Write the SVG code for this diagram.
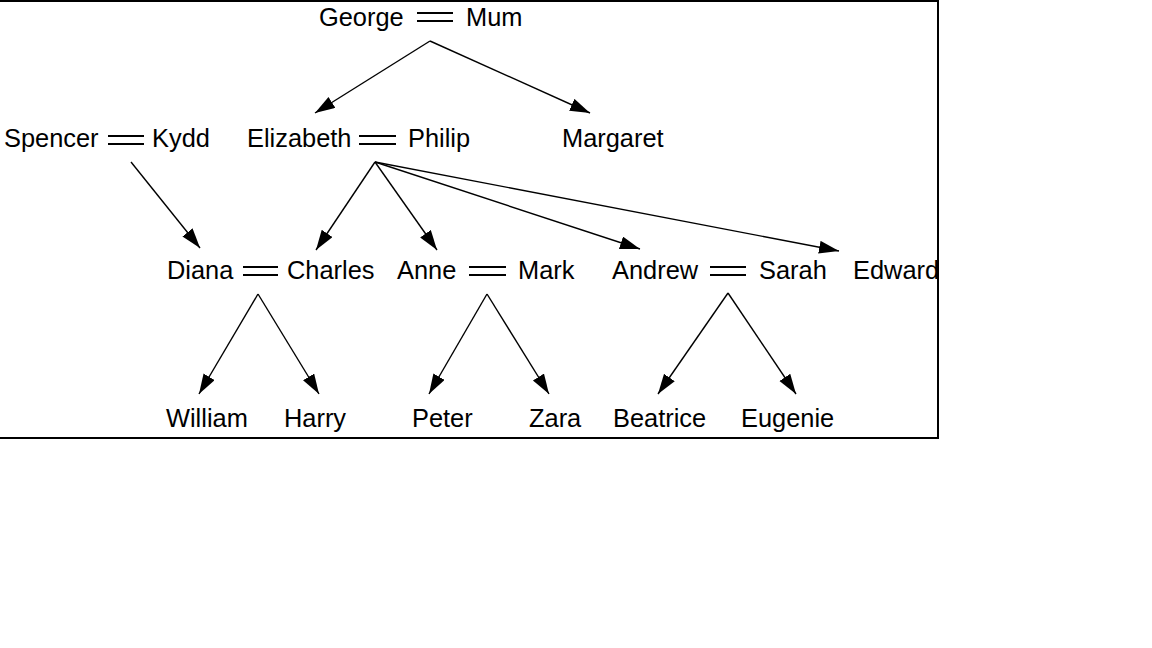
<svg xmlns="http://www.w3.org/2000/svg" width="1152" height="648" viewBox="0 0 1152 648">
<defs>
<style>
text{font-family:"Liberation Sans",Arial,sans-serif;font-size:25.4px;fill:#000}
.m{stroke:#000;stroke-width:2;fill:none}
.e{stroke:#000;stroke-width:1.4;fill:none;marker-end:url(#ah)}
</style>
<marker id="ah" markerUnits="userSpaceOnUse" markerWidth="22" markerHeight="14" refX="20" refY="6.5" orient="auto" viewBox="0 0 22 14">
<path d="M0,0 L20,6.5 L0,13 z" fill="#000"/>
</marker>
</defs>
<rect width="1152" height="648" fill="#fff"/>
<path d="M0,1 H938 V438 H0" fill="none" stroke="#000" stroke-width="2"/>
<g id="connectors">
<path class="e" d="M430,41 L315,113"/>
<path class="e" d="M430,41 L590,113"/>
<path class="e" d="M131,162 L200,248"/>
<path class="e" d="M375,162 L316,250"/>
<path class="e" d="M375,162 L437,250"/>
<path class="e" d="M375,162 L640,249"/>
<path class="e" d="M375,162 L839,251"/>
<path class="e" d="M258,294 L199,394"/>
<path class="e" d="M258,294 L319,394"/>
<path class="e" d="M487,294 L429,394"/>
<path class="e" d="M487,294 L549,394"/>
<path class="e" d="M728,293 L658,394"/>
<path class="e" d="M728,293 L796,394"/>
</g>
<g id="marriages">
<g id="m-george-mum"><path class="m" d="M417,13 H453 M417,21 H453"/></g>
<g id="m-spencer-kydd"><path class="m" d="M108,136 H144 M108,144 H144"/></g>
<g id="m-elizabeth-philip"><path class="m" d="M359,136 H396 M359,144 H396"/></g>
<g id="m-diana-charles"><path class="m" d="M243,267 H278 M243,275 H278"/></g>
<g id="m-anne-mark"><path class="m" d="M469,267 H506 M469,275 H506"/></g>
<g id="m-andrew-sarah"><path class="m" d="M710,267 H746 M710,275 H746"/></g>
</g>
<g id="george"><text x="319" y="26">George</text></g>
<g id="mum"><text x="466" y="26">Mum</text></g>
<g id="spencer"><text x="4" y="147">Spencer</text></g>
<g id="kydd"><text x="152" y="147">Kydd</text></g>
<g id="elizabeth"><text x="247" y="147">Elizabeth</text></g>
<g id="philip"><text x="408" y="147">Philip</text></g>
<g id="margaret"><text x="562" y="147">Margaret</text></g>
<g id="diana"><text x="167" y="279">Diana</text></g>
<g id="charles"><text x="287" y="279">Charles</text></g>
<g id="anne"><text x="397" y="279">Anne</text></g>
<g id="mark"><text x="518" y="279">Mark</text></g>
<g id="andrew"><text x="612" y="279">Andrew</text></g>
<g id="sarah"><text x="759" y="279">Sarah</text></g>
<g id="edward"><text x="853" y="279">Edward</text></g>
<g id="william"><text x="166" y="427">William</text></g>
<g id="harry"><text x="284" y="427">Harry</text></g>
<g id="peter"><text x="412" y="427">Peter</text></g>
<g id="zara"><text x="529" y="427">Zara</text></g>
<g id="beatrice"><text x="613" y="427">Beatrice</text></g>
<g id="eugenie"><text x="741" y="427">Eugenie</text></g>
</svg>
